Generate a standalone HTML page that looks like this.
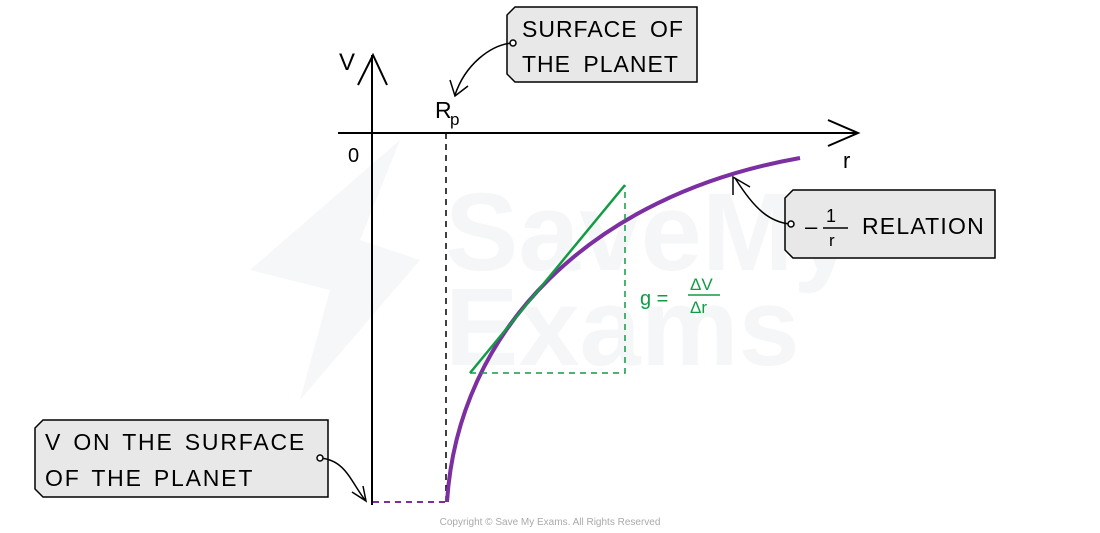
<!DOCTYPE html>
<html><head><style>
html,body{margin:0;padding:0;background:#fff;}
svg{display:block;}
text{font-family:"Liberation Sans",sans-serif;}
</style></head><body>
<svg width="1100" height="533" viewBox="0 0 1100 533">
<g fill="#f6f7f8">
<polygon points="250,270 400,140 360,240 420,260 300,400 330,290"/>
<text x="445" y="270" font-size="110" font-weight="bold" fill="#f5f6f7">SaveMy</text>
<text x="445" y="365" font-size="110" font-weight="bold" fill="#f5f6f7">Exams</text>
</g>
<g stroke="#000" stroke-width="2" fill="none">
<line x1="372" y1="505" x2="372" y2="55"/>
<polyline points="358,85 373,55 387,85"/>
<line x1="338" y1="133" x2="858" y2="133"/>
<polyline points="828,120 858,133 828,146"/>
</g>
<line x1="446" y1="133" x2="446" y2="502" stroke="#000" stroke-width="1.5" stroke-dasharray="6,5"/>
<line x1="373" y1="502" x2="446" y2="502" stroke="#7b2fa0" stroke-width="2" stroke-dasharray="6,5"/>
<path d="M447,502 C458,330 590,195 800,158" stroke="#7b2fa0" stroke-width="4" fill="none"/>
<line x1="470" y1="373" x2="625" y2="185" stroke="#119c44" stroke-width="2.5"/>
<polyline points="470,373 625,373 625,186" stroke="#119c44" stroke-width="1.5" fill="none" stroke-dasharray="6,5"/>
<text x="640" y="305" font-size="20" fill="#119c44">g =</text>
<text x="690" y="290" font-size="17" fill="#119c44">ΔV</text>
<line x1="688" y1="295" x2="720" y2="295" stroke="#119c44" stroke-width="1.5"/>
<text x="690" y="313" font-size="17" fill="#119c44">Δr</text>
<text x="339" y="70" font-size="24">V</text>
<text x="348" y="162" font-size="20">0</text>
<text x="843" y="168" font-size="22">r</text>
<text x="435" y="118" font-size="23">R</text>
<text x="450" y="125" font-size="17">p</text>
<g fill="#e8e8e8" stroke="#000" stroke-width="1.5">
<path d="M515,7 H697 V82 H515 L507,74 V15 Z"/>
<path d="M793,190 H995 V258 H793 L785,250 V198 Z"/>
<path d="M43,420 H328 V497 H43 L35,489 V428 Z"/>
</g>
<g font-size="23" fill="#000" letter-spacing="1">
<text x="522" y="37" word-spacing="5">SURFACE OF</text>
<text x="522" y="72" word-spacing="5">THE PLANET</text>
<text x="862" y="234" letter-spacing="1.2">RELATION</text>
<text x="45" y="450" letter-spacing="1.8" word-spacing="3">V ON THE SURFACE</text>
<text x="45" y="486" letter-spacing="1.8" word-spacing="3">OF THE PLANET</text>
</g>
<text x="805" y="234" font-size="22">–</text>
<text x="826" y="222" font-size="18">1</text>
<line x1="823" y1="228" x2="848" y2="228" stroke="#000" stroke-width="1.5"/>
<text x="829" y="246" font-size="17">r</text>
<g stroke="#000" stroke-width="1.5" fill="none">
<path d="M512,43 C490,45 465,65 455,95"/>
<polyline points="450,80 455,96 468,86"/>
<circle cx="513" cy="43" r="3" fill="#fff"/>
<path d="M790,224 C770,222 755,210 735,178"/>
<polyline points="733,195 733,177 750,187"/>
<circle cx="791" cy="224" r="3" fill="#fff"/>
<path d="M320,458 C345,460 350,480 365,500"/>
<polyline points="352,492 366,501 363,486"/>
<circle cx="320" cy="458" r="3" fill="#fff"/>
</g>
<text x="550" y="525" font-size="10" fill="#aaa" text-anchor="middle">Copyright © Save My Exams. All Rights Reserved</text>
</svg>
</body></html>
